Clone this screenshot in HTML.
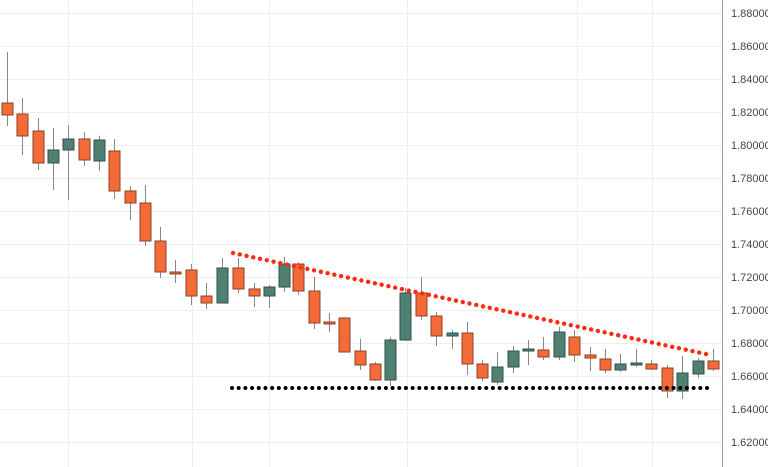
<!DOCTYPE html><html><head><meta charset="utf-8"><style>body{margin:0;background:#fff}svg{display:block}</style></head><body>
<svg id="s" width="768" height="467" xmlns="http://www.w3.org/2000/svg" font-family="Liberation Sans, sans-serif">
<g stroke="#eeeeee" stroke-width="1">
<line x1="0" x2="722" y1="13.5" y2="13.5"/><line x1="0" x2="722" y1="46.5" y2="46.5"/><line x1="0" x2="722" y1="79.5" y2="79.5"/><line x1="0" x2="722" y1="112.5" y2="112.5"/><line x1="0" x2="722" y1="145.5" y2="145.5"/><line x1="0" x2="722" y1="178.5" y2="178.5"/><line x1="0" x2="722" y1="211.5" y2="211.5"/><line x1="0" x2="722" y1="244.5" y2="244.5"/><line x1="0" x2="722" y1="277.5" y2="277.5"/><line x1="0" x2="722" y1="310.5" y2="310.5"/><line x1="0" x2="722" y1="343.5" y2="343.5"/><line x1="0" x2="722" y1="376.5" y2="376.5"/><line x1="0" x2="722" y1="409.5" y2="409.5"/><line x1="0" x2="722" y1="442.5" y2="442.5"/>
<line x1="68.5" x2="68.5" y1="0" y2="467"/><line x1="192.5" x2="192.5" y1="0" y2="467"/><line x1="269.5" x2="269.5" y1="0" y2="467"/><line x1="407.5" x2="407.5" y1="0" y2="467"/><line x1="577.5" x2="577.5" y1="0" y2="467"/><line x1="652.5" x2="652.5" y1="0" y2="467"/>
</g>
<line x1="722.5" x2="722.5" y1="0" y2="467" stroke="#999"/>
<g font-size="11" fill="#444">
<text x="731" y="17">1.88000</text><text x="731" y="50">1.86000</text><text x="731" y="83">1.84000</text><text x="731" y="116">1.82000</text><text x="731" y="149">1.80000</text><text x="731" y="182">1.78000</text><text x="731" y="215">1.76000</text><text x="731" y="248">1.74000</text><text x="731" y="281">1.72000</text><text x="731" y="314">1.70000</text><text x="731" y="347">1.68000</text><text x="731" y="380">1.66000</text><text x="731" y="413">1.64000</text><text x="731" y="446">1.62000</text>
</g>
<g id="c"></g><g id="d"></g>
</svg>
<script>
var C=[[7,52,103,115,126,0],[22,98,114,136,155,0],[38,118,131,163,170,0],[53,128,150,163,190,1],[68,125,139,150,200,1],[84,132,139,160,166,0],[99,136,140,161,171,1],[114,139,151,191,199,0],[130,186,191,203,220,0],[145,185,203,241,246,0],[160,227,241,272,278,0],[175,260,272,274,283,0],[191,264,270,296,305,0],[206,283,296,303,309,0],[222,258,268,303,303,1],[238,258,268,289,293,0],[254,283,289,296,307,0],[269,285,287,296,308,1],[284,257,264,287,292,1],[298,262,264,291,295,0],[314,277,291,323,329,0],[329,313,322,324,332,0],[344,318,318,352,352,0],[360,339,351,365,370,0],[375,362,364,380,381,0],[390,337,340,380,386,1],[405,288,293,340,341,1],[421,277,293,316,320,0],[436,312,316,336,346,0],[452,330,333,336,349,1],[467,322,333,364,375,0],[482,360,364,378,381,0],[497,352,367,382,385,1],[513,346,351,367,373,1],[528,340,349,351,365,1],[543,337,350,357,360,0],[559,327,332,357,360,1],[574,330,337,355,362,0],[590,347,355,358,371,0],[605,349,359,370,373,0],[620,354,364,370,372,1],[636,349,363,365,367,1],[651,360,364,369,370,0],[667,365,368,391,398,0],[682,356,373,391,399,1],[698,358,361,374,378,1],[713,349,361,369,371,0]];
var h='';C.forEach(function(c){var f=c[5]?'#4f8073':'#f46b38',s=c[5]?'#2f5247':'#8a4028';
h+='<line x1="'+(c[0]+.5)+'" x2="'+(c[0]+.5)+'" y1="'+c[1]+'" y2="'+c[4]+'" stroke="#888"/>';
h+='<rect x="'+(c[0]-5)+'" y="'+c[2]+'" width="11" height="'+Math.max(1,c[3]-c[2])+'" fill="'+f+'" stroke="'+s+'" stroke-width="1"/>';});
document.getElementById('c').innerHTML=h;
var d='',n=70;for(var i=0;i<=n;i++){var x=233+i*(706-233)/n,y=253+i*(354-253)/n;d+='<circle cx="'+x+'" cy="'+y+'" r="2.2" fill="#ff2a10"/>';}
for(var i=0;i<=71;i++){var x=232+i*(707-232)/71;d+='<circle cx="'+x+'" cy="388" r="2" fill="#000"/>';}
document.getElementById('d').innerHTML=d;
</script>
</body></html>
